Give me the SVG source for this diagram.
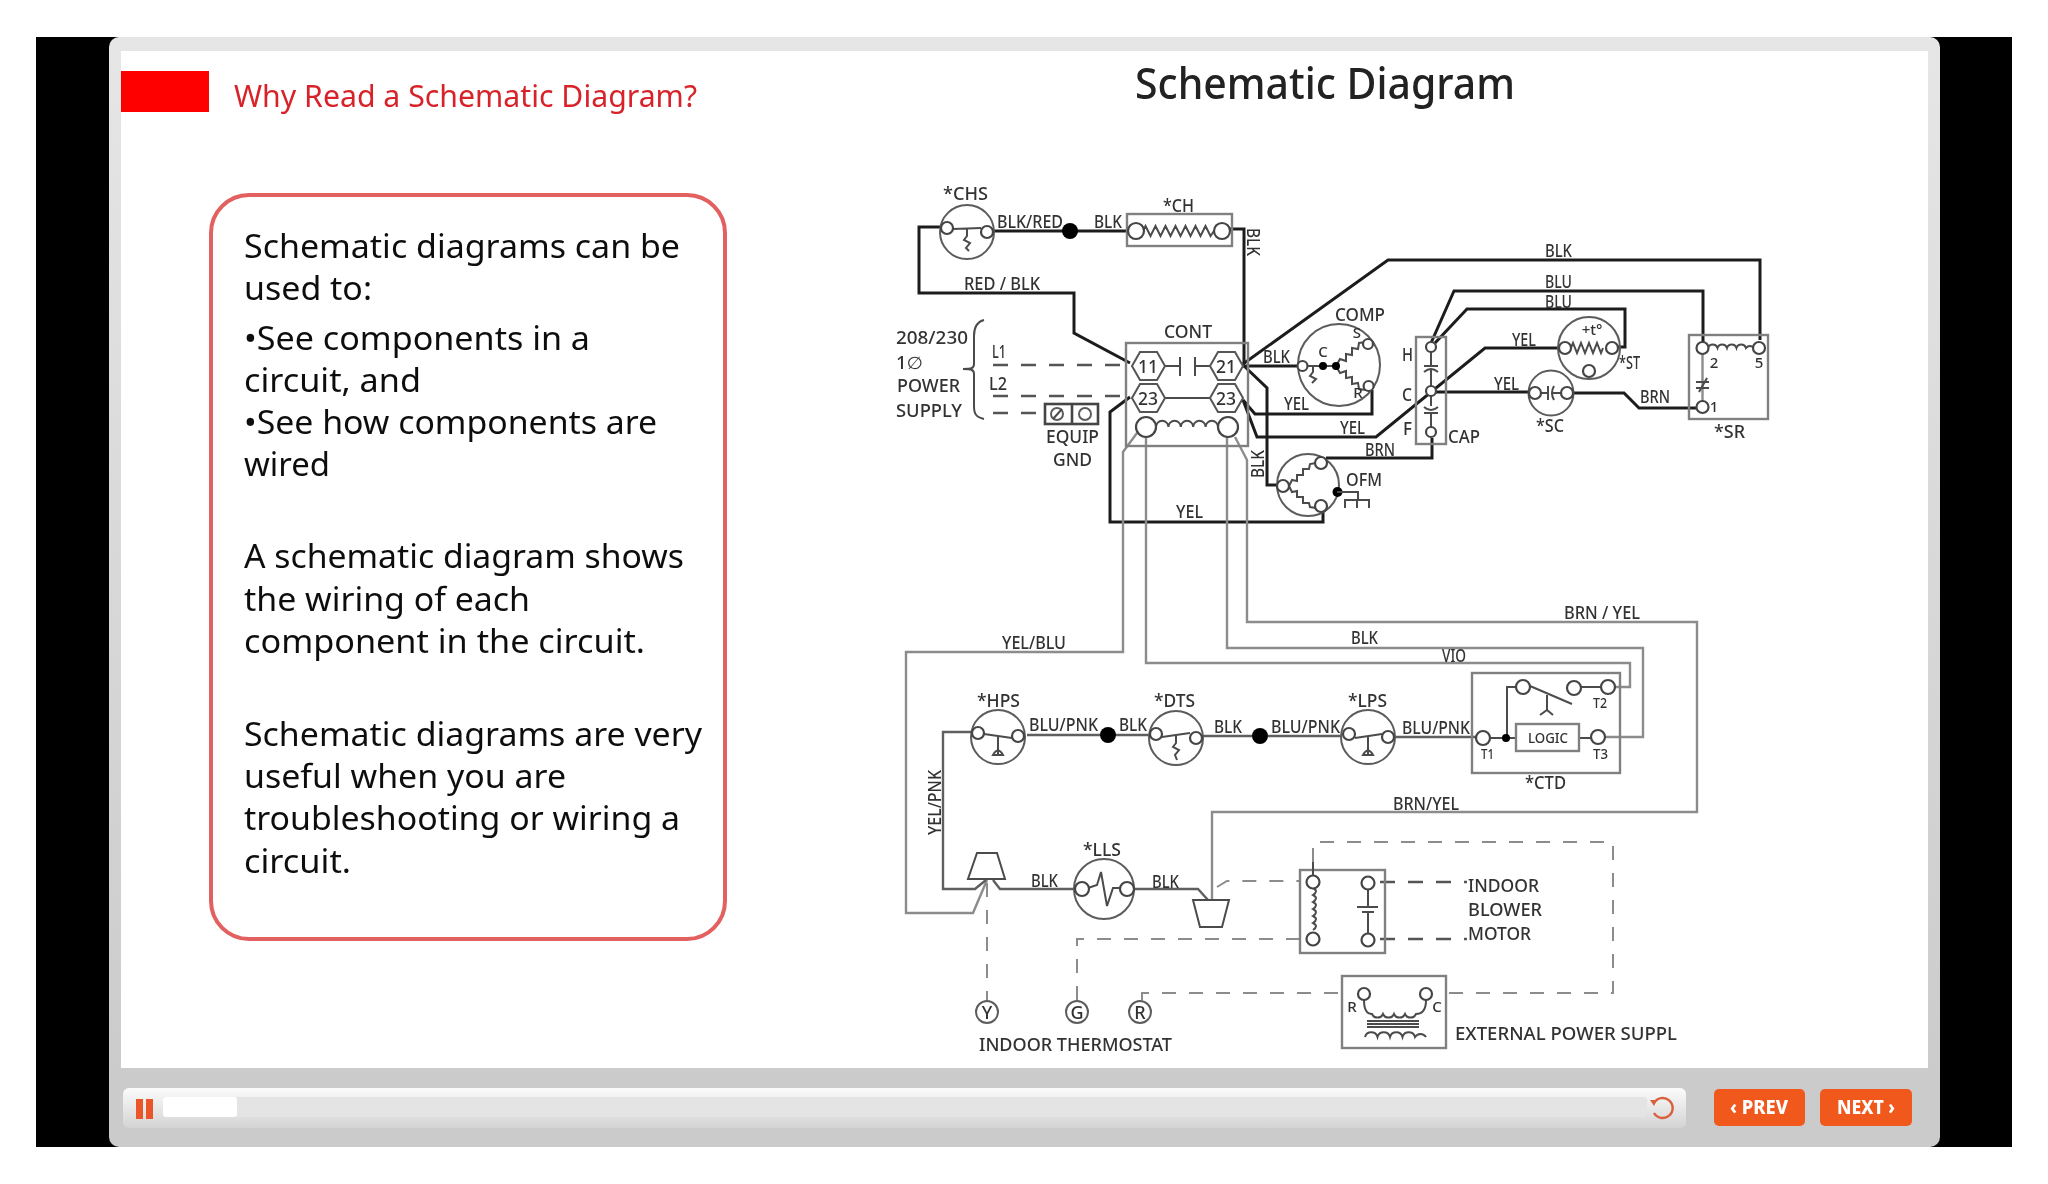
<svg xmlns="http://www.w3.org/2000/svg" width="2048" height="1184" viewBox="0 0 2048 1184">
<defs>
<linearGradient id="frameFill" x1="0" y1="0" x2="0" y2="1"><stop offset="0" stop-color="#e6e6e6"/><stop offset="0.95" stop-color="#cbcbcb"/></linearGradient>
<linearGradient id="barFill" x1="0" y1="0" x2="0" y2="1"><stop offset="0" stop-color="#fbfbfb"/><stop offset="1" stop-color="#d4d4d4"/></linearGradient>
<filter id="soft" filterUnits="userSpaceOnUse" x="0" y="0" width="2048" height="1184"><feGaussianBlur stdDeviation="0.5"/></filter>
</defs>
<style>
text{font-family:"Noto Sans","DejaVu Sans",sans-serif}
.body{font-size:33px;fill:#111}
.lab{font-size:17.500px;fill:#333;font-weight:500}
.big{font-size:18px;fill:#333;font-weight:500}
.sm{font-size:15px;fill:#333;font-weight:500}
.th{font-size:18px;fill:#333;font-weight:500}
.w{fill:none;stroke:#1e1e1e;stroke-width:3;stroke-linejoin:miter}
.g{fill:none;stroke:#5e5e5e;stroke-width:2.400}
.l{fill:none;stroke:#8c8c8c;stroke-width:2.400}
.dk{fill:none;stroke:#555;stroke-width:2.400;stroke-dasharray:15 13}
.dg{fill:none;stroke:#8c8c8c;stroke-width:2;stroke-dasharray:14 13}
.box{fill:none;stroke:#808080;stroke-width:2.400}
.boxd{fill:none;stroke:#444;stroke-width:2.600}
.c{fill:none;stroke:#5c5c5c;stroke-width:2}
.cf{fill:#fff;stroke:#555;stroke-width:2}
.tm{fill:#fff;stroke:#444;stroke-width:2.200}
.sym{fill:none;stroke:#4c4c4c;stroke-width:2}
.dot{fill:#000}
</style>
<g id="page" filter="url(#soft)">
<g id="frame">
<rect x="0" y="0" width="2048" height="1184" fill="#fff"/>
<rect x="36" y="37" width="1976" height="1110" fill="#000"/>
<rect x="109" y="37" width="1831" height="1110" rx="10" fill="url(#frameFill)"/>
<rect x="121" y="51" width="1807" height="1017" fill="#fff"/>
</g>

<g id="header">
<rect x="121" y="71" width="88" height="41" fill="#fe0000"/>
<text x="234" y="107" font-size="30" fill="#d8232a" textLength="463" lengthAdjust="spacingAndGlyphs">Why Read a Schematic Diagram?</text>
<text x="1135" y="99" font-size="44" font-weight="500" fill="#222" textLength="380" lengthAdjust="spacingAndGlyphs">Schematic Diagram</text>
</g>

<g id="text-panel">
<rect x="211" y="195" width="514" height="744" rx="38" fill="#fff" stroke="#e2605f" stroke-width="4"/>
<text class="body" x="244" y="258" textLength="436" lengthAdjust="spacingAndGlyphs">Schematic diagrams can be</text>
<text class="body" x="244" y="300" textLength="128" lengthAdjust="spacingAndGlyphs">used to:</text>
<text class="body" x="244" y="350" textLength="346" lengthAdjust="spacingAndGlyphs">•See components in a</text>
<text class="body" x="244" y="392" textLength="177" lengthAdjust="spacingAndGlyphs">circuit, and</text>
<text class="body" x="244" y="434" textLength="413" lengthAdjust="spacingAndGlyphs">•See how components are</text>
<text class="body" x="244" y="476" textLength="86" lengthAdjust="spacingAndGlyphs">wired</text>
<text class="body" x="244" y="568" textLength="440" lengthAdjust="spacingAndGlyphs">A schematic diagram shows</text>
<text class="body" x="244" y="611" textLength="286" lengthAdjust="spacingAndGlyphs">the wiring of each</text>
<text class="body" x="244" y="653" textLength="401" lengthAdjust="spacingAndGlyphs">component in the circuit.</text>
<text class="body" x="244" y="746" textLength="458" lengthAdjust="spacingAndGlyphs">Schematic diagrams are very</text>
<text class="body" x="244" y="788" textLength="322" lengthAdjust="spacingAndGlyphs">useful when you are</text>
<text class="body" x="244" y="830" textLength="436" lengthAdjust="spacingAndGlyphs">troubleshooting or wiring a</text>
<text class="body" x="244" y="873" textLength="107" lengthAdjust="spacingAndGlyphs">circuit.</text>
</g>

<g id="connectors">
<path class="w" d="M942 227H919V293H1074V333L1130 363"/>
<path class="w" d="M993 231H1127"/>
<path class="w" d="M1230 229H1244V364"/>
<path class="w" d="M1243 364L1388 260H1760V340"/>
<path class="w" d="M1243 366H1297"/>
<path class="w" d="M1243 365L1267 388V485H1277"/>
<path class="w" d="M1243 400L1255 414H1372V390"/>
<path class="w" d="M1243 400L1257 437H1376L1485 348H1558"/>
<path class="w" d="M1130 397L1110 412V522H1323V511"/>
<path class="w" d="M1431 343L1454 291H1703V342"/>
<path class="w" d="M1435 343L1467 309H1625V347H1618"/>
<path class="w" d="M1431 392H1529"/>
<path class="w" d="M1573 393H1624L1639 408H1696"/>
<path class="w" d="M1326 458H1432V438"/>
<path class="l" d="M1137 433L1123 452V652H906V913H973L987 880"/>
<path class="l" d="M1146 437V663H1630V687H1615"/>
<path class="l" d="M1227 437V648H1643V737H1606"/>
<path class="l" d="M1235 437L1247 460V622H1697V812H1212V900"/>
<path class="g" d="M972 732H943V889H975L986 880"/>
<path class="g" d="M1027 735H1150"/>
<path class="g" d="M1203 736H1342"/>
<path class="g" d="M1395 737H1476"/>
<path class="g" d="M993 880L1000 889H1074"/>
<path class="g" d="M1135 889H1198L1208 900"/>
<path class="dk" d="M993 365H1130"/>
<path class="dk" d="M993 396H1130"/>
<path class="dk" d="M993 413H1045"/>
<path class="dg" d="M987 883V1000"/>
<path class="dg" d="M1217 887L1227 881H1300"/>
<path class="dg" d="M1077 1000V939H1300"/>
<path class="dg" d="M1142 1000V993H1342"/>
<path class="dg" d="M1313 862V842H1613V993H1447"/>
<path class="dk" d="M1380 882H1467"/>
<path class="dk" d="M1380 939H1467"/>
</g>

<g id="wire-labels">
<text class="lab" x="997" y="228" textLength="66" lengthAdjust="spacingAndGlyphs">BLK/RED</text>
<text class="lab" x="1094" y="228" textLength="28" lengthAdjust="spacingAndGlyphs">BLK</text>
<text class="lab" x="964" y="290" textLength="76" lengthAdjust="spacingAndGlyphs">RED / BLK</text>
<text class="lab" transform="translate(1247,228) rotate(90)" textLength="28" lengthAdjust="spacingAndGlyphs">BLK</text>
<text class="lab" x="1263" y="363" textLength="27" lengthAdjust="spacingAndGlyphs">BLK</text>
<text class="lab" x="1284" y="410" textLength="25" lengthAdjust="spacingAndGlyphs">YEL</text>
<text class="lab" x="1340" y="434" textLength="25" lengthAdjust="spacingAndGlyphs">YEL</text>
<text class="lab" x="1365" y="456" textLength="30" lengthAdjust="spacingAndGlyphs">BRN</text>
<text class="lab" transform="translate(1264,478) rotate(-90)" textLength="28" lengthAdjust="spacingAndGlyphs">BLK</text>
<text class="lab" x="1176" y="518" textLength="27" lengthAdjust="spacingAndGlyphs">YEL</text>
<text class="lab" x="1545" y="257" textLength="27" lengthAdjust="spacingAndGlyphs">BLK</text>
<text class="lab" x="1545" y="288" textLength="27" lengthAdjust="spacingAndGlyphs">BLU</text>
<text class="lab" x="1545" y="308" textLength="27" lengthAdjust="spacingAndGlyphs">BLU</text>
<text class="lab" x="1512" y="346" textLength="24" lengthAdjust="spacingAndGlyphs">YEL</text>
<text class="lab" x="1494" y="390" textLength="25" lengthAdjust="spacingAndGlyphs">YEL</text>
<text class="lab" x="1640" y="403" textLength="30" lengthAdjust="spacingAndGlyphs">BRN</text>
<text class="lab" x="1002" y="649" textLength="64" lengthAdjust="spacingAndGlyphs">YEL/BLU</text>
<text class="lab" x="1564" y="619" textLength="76" lengthAdjust="spacingAndGlyphs">BRN / YEL</text>
<text class="lab" x="1351" y="644" textLength="27" lengthAdjust="spacingAndGlyphs">BLK</text>
<text class="lab" x="1442" y="662" textLength="24" lengthAdjust="spacingAndGlyphs">VIO</text>
<text class="lab" x="1393" y="810" textLength="66" lengthAdjust="spacingAndGlyphs">BRN/YEL</text>
<text class="lab" transform="translate(941,835) rotate(-90)" textLength="65" lengthAdjust="spacingAndGlyphs">YEL/PNK</text>
<text class="lab" x="1029" y="731" textLength="69" lengthAdjust="spacingAndGlyphs">BLU/PNK</text>
<text class="lab" x="1119" y="731" textLength="28" lengthAdjust="spacingAndGlyphs">BLK</text>
<text class="lab" x="1214" y="733" textLength="28" lengthAdjust="spacingAndGlyphs">BLK</text>
<text class="lab" x="1271" y="733" textLength="69" lengthAdjust="spacingAndGlyphs">BLU/PNK</text>
<text class="lab" x="1402" y="734" textLength="68" lengthAdjust="spacingAndGlyphs">BLU/PNK</text>
<text class="lab" x="1031" y="887" textLength="27" lengthAdjust="spacingAndGlyphs">BLK</text>
<text class="lab" x="1152" y="888" textLength="27" lengthAdjust="spacingAndGlyphs">BLK</text>
</g>

<g id="CHS">
<circle class="c" cx="967" cy="232" r="27"/>
<path class="sym" d="M953 229L981 228M967 229V236L964 240L970 243L966 248L969 251"/>
<circle class="tm" cx="947" cy="228" r="6"/><circle class="tm" cx="987" cy="232" r="6"/>
<text class="big" x="943" y="200" textLength="45" lengthAdjust="spacingAndGlyphs">*CHS</text>
</g>
<circle id="junction-1" class="dot" cx="1070" cy="231" r="8"/>
<g id="CH">
<rect class="box" x="1127" y="214" width="105" height="32"/>
<path class="sym" d="M1143 231l2.500 -5 5 10 5 -10 5 10 5 -10 5 10 5 -10 5 10 5 -10 5 10 5 -10 5 10 5 -10 5 10 3.500 -5"/>
<circle class="tm" cx="1136" cy="231" r="8"/><circle class="tm" cx="1222" cy="231" r="8"/>
<text class="big" x="1163" y="212" textLength="31" lengthAdjust="spacingAndGlyphs">*CH</text>
</g>
<g id="power-supply">
<text class="lab" x="896" y="344" textLength="72" lengthAdjust="spacingAndGlyphs">208/230</text>
<text class="lab" x="896" y="369" textLength="27" lengthAdjust="spacingAndGlyphs">1∅</text>
<text class="lab" x="897" y="392" textLength="63" lengthAdjust="spacingAndGlyphs">POWER</text>
<text class="lab" x="896" y="417" textLength="66" lengthAdjust="spacingAndGlyphs">SUPPLY</text>
<path class="sym" d="M984 320C976 322 974 328 974 336V364C974 368 972 369 963 369C972 369 974 370 974 374V406C974 414 976 417 984 419"/>
<text class="lab" x="992" y="358" textLength="14" lengthAdjust="spacingAndGlyphs">L1</text>
<text class="lab" x="989" y="390" textLength="18" lengthAdjust="spacingAndGlyphs">L2</text>
</g>
<g id="equip-gnd">
<rect class="boxd" x="1045" y="404" width="53" height="20"/>
<path class="boxd" d="M1072 404V424"/>
<circle class="c" cx="1057" cy="414" r="6"/><path class="sym" d="M1053 419L1062 409"/>
<circle class="c" cx="1085" cy="414" r="6"/>
<text class="lab" x="1046" y="443" textLength="53" lengthAdjust="spacingAndGlyphs">EQUIP</text>
<text class="lab" x="1053" y="466" textLength="39" lengthAdjust="spacingAndGlyphs">GND</text>
</g>
<g id="CONT">
<rect class="box" x="1126" y="343" width="122" height="103"/>
<path class="sym" d="M1165 366H1180M1180 357V376M1195 357V376M1195 366H1210M1165 398H1210"/>
<path class="cf" d="M1132 366L1140 352H1157L1165 366L1157 380H1140Z"/>
<path class="cf" d="M1210 366L1218 352H1235L1243 366L1235 380H1218Z"/>
<path class="cf" d="M1132 398L1140 384H1157L1165 398L1157 412H1140Z"/>
<path class="cf" d="M1210 398L1218 384H1235L1243 398L1235 412H1218Z"/>
<text class="lab" x="1148" y="373" text-anchor="middle">11</text>
<text class="lab" x="1226" y="373" text-anchor="middle">21</text>
<text class="lab" x="1148" y="405" text-anchor="middle">23</text>
<text class="lab" x="1226" y="405" text-anchor="middle">23</text>
<path class="sym" d="M1156 427a6.200 6.200 0 0 1 12.400 0a6.200 6.200 0 0 1 12.400 0a6.200 6.200 0 0 1 12.400 0a6.200 6.200 0 0 1 12.400 0a6.200 6.200 0 0 1 12.400 0"/>
<circle class="tm" cx="1146" cy="427" r="10"/><circle class="tm" cx="1228" cy="427" r="10"/>
<text class="lab" x="1164" y="338" textLength="48" lengthAdjust="spacingAndGlyphs">CONT</text>
</g>
<g id="COMP">
<circle class="c" cx="1339" cy="365" r="41"/>
<path class="sym" d="M1336 366l4 -7 6 2 0 -7 6 1 0 -7 6 1 1 -6 7 -1M1336 366l4 7 6 -2 0 7 6 -1 0 7 6 -1 1 6 7 1"/>
<path class="sym" d="M1313 367V372L1310 376L1316 379L1312 383"/>
<path class="sym" d="M1307 366H1336"/>
<circle class="tm" cx="1302.500" cy="366" r="5"/><circle class="dot" cx="1323" cy="366" r="4"/><circle class="dot" cx="1336" cy="366" r="4"/>
<circle class="tm" cx="1368" cy="344" r="5"/><circle class="tm" cx="1368.600" cy="386" r="5"/>
<text class="lab" x="1335" y="321" textLength="50" lengthAdjust="spacingAndGlyphs">COMP</text>
<text class="sm" x="1357" y="338" text-anchor="middle">S</text>
<text class="sm" x="1323" y="357" text-anchor="middle">C</text>
<text class="sm" x="1358" y="398" text-anchor="middle">R</text>
</g>
<g id="CAP">
<rect class="box" x="1416" y="337" width="30" height="107"/>
<path class="sym" d="M1431 352V366M1424 366H1438M1424 372Q1431 366 1438 372M1431 370V386M1431 396V406M1424 407Q1431 413 1438 407M1424 413H1438M1431 413V427"/>
<circle class="tm" cx="1431" cy="347" r="5"/><circle class="tm" cx="1431" cy="391" r="5"/><circle class="tm" cx="1431" cy="432" r="5"/>
<text class="lab" x="1402" y="361" textLength="11" lengthAdjust="spacingAndGlyphs">H</text>
<text class="lab" x="1402" y="401" textLength="10" lengthAdjust="spacingAndGlyphs">C</text>
<text class="lab" x="1403" y="435" textLength="9" lengthAdjust="spacingAndGlyphs">F</text>
<text class="lab" x="1448" y="443" textLength="32" lengthAdjust="spacingAndGlyphs">CAP</text>
</g>
<g id="ST">
<circle class="c" cx="1589" cy="348" r="31"/>
<path class="sym" d="M1571 348l2 -5 4 10 4 -10 4 10 4 -10 4 10 4 -10 4 10 2 -5"/>
<circle class="tm" cx="1565" cy="348" r="6"/><circle class="tm" cx="1612" cy="348" r="6"/><circle class="tm" cx="1589" cy="371" r="6"/>
<text class="sm" x="1592" y="335" text-anchor="middle">+t°</text>
<text class="lab" x="1619" y="369" textLength="21" lengthAdjust="spacingAndGlyphs">*ST</text>
</g>
<g id="SC">
<circle class="c" cx="1551" cy="393" r="22.500"/>
<path class="sym" d="M1541 393H1548M1548 386V400M1554 386Q1550 393 1554 400M1552 393H1561"/>
<circle class="tm" cx="1535" cy="393" r="6"/><circle class="tm" cx="1567" cy="393" r="6"/>
<text class="lab" x="1536" y="432" textLength="28" lengthAdjust="spacingAndGlyphs">*SC</text>
</g>
<g id="SR">
<rect class="box" x="1689" y="335" width="79" height="84"/>
<path class="l" d="M1702.500 354V401"/>
<path class="sym" d="M1696 382H1709M1696 388H1709M1699 392L1707 378"/>
<path class="sym" d="M1708 348a5 5 0 0 1 9.500 0a5 5 0 0 1 9.500 0a5 5 0 0 1 9.500 0a5 5 0 0 1 9.500 0a5 5 0 0 1 8 0"/>
<circle class="tm" cx="1702.500" cy="348" r="6"/><circle class="tm" cx="1759" cy="348" r="6"/><circle class="tm" cx="1702.500" cy="407" r="6"/>
<text class="sm" x="1714" y="368" text-anchor="middle">2</text>
<text class="sm" x="1759" y="368" text-anchor="middle">5</text>
<text class="sm" x="1714" y="412" text-anchor="middle">1</text>
<text class="lab" x="1714" y="438" textLength="31" lengthAdjust="spacingAndGlyphs">*SR</text>
</g>
<g id="OFM">
<circle class="c" cx="1308" cy="485" r="31"/>
<path class="sym" d="M1289 486l3 -6 5 1 0 -6 6 0 0 -6 6 0 1 -5 6 -1M1289 486l3 6 5 -1 0 6 6 0 0 6 6 0 1 4 6 1"/>
<circle class="tm" cx="1283" cy="486" r="6"/><circle class="tm" cx="1321" cy="463" r="6"/><circle class="tm" cx="1321" cy="506" r="6"/>
<circle class="dot" cx="1337.500" cy="492" r="5"/>
<path class="sym" d="M1337 492H1358V500M1345 508V500H1369V508M1357 500V508"/>
<text class="lab" x="1346" y="486" textLength="36" lengthAdjust="spacingAndGlyphs">OFM</text>
</g>
<g id="HPS">
<circle class="c" cx="998" cy="737" r="27"/>
<path class="sym" d="M984 734L1012 738M998 736V755M993 755Q998 746 1003 755Z"/>
<circle class="tm" cx="978" cy="733" r="6"/><circle class="tm" cx="1018" cy="736" r="6"/>
<text class="big" x="977" y="707" textLength="43" lengthAdjust="spacingAndGlyphs">*HPS</text>
</g>
<circle id="junction-2" class="dot" cx="1108" cy="735" r="8"/>
<g id="DTS">
<circle class="c" cx="1176" cy="738" r="27"/>
<path class="sym" d="M1162 737L1190 733M1176 736V743L1173 747L1179 750L1175 755L1177 760"/>
<circle class="tm" cx="1156" cy="734" r="6"/><circle class="tm" cx="1196" cy="738" r="6"/>
<text class="big" x="1154" y="707" textLength="41" lengthAdjust="spacingAndGlyphs">*DTS</text>
</g>
<circle id="junction-3" class="dot" cx="1260" cy="736" r="8"/>
<g id="LPS">
<circle class="c" cx="1368" cy="737" r="27"/>
<path class="sym" d="M1355 738L1382 734M1368 736V755M1363 755Q1368 746 1373 755Z"/>
<circle class="tm" cx="1349" cy="734" r="6"/><circle class="tm" cx="1388" cy="737" r="6"/>
<text class="big" x="1348" y="707" textLength="39" lengthAdjust="spacingAndGlyphs">*LPS</text>
</g>
<g id="CTD">
<rect class="box" x="1472" y="673" width="148" height="100"/>
<path class="sym" d="M1490 738H1516M1507 738V687H1516M1579 738H1591M1581 687H1601M1530 686L1572 704M1547 695V710M1540 715L1547 710L1553 715"/>
<rect class="box" x="1516" y="724" width="63" height="27"/>
<circle class="tm" cx="1483" cy="738" r="7"/><circle class="dot" cx="1506" cy="738" r="4"/>
<circle class="tm" cx="1598" cy="737" r="7"/><circle class="tm" cx="1608" cy="687" r="7"/><circle class="tm" cx="1574" cy="688" r="7"/><circle class="tm" cx="1523" cy="687" r="7"/>
<text class="sm" x="1528" y="743" textLength="40" lengthAdjust="spacingAndGlyphs">LOGIC</text>
<text class="sm" x="1481" y="759" textLength="13" lengthAdjust="spacingAndGlyphs">T1</text>
<text class="sm" x="1593" y="759" textLength="15" lengthAdjust="spacingAndGlyphs">T3</text>
<text class="sm" x="1593" y="708" textLength="14" lengthAdjust="spacingAndGlyphs">T2</text>
<text class="lab" x="1525" y="789" textLength="41" lengthAdjust="spacingAndGlyphs">*CTD</text>
</g>
<g id="pressure-switch-upper"><path class="sym" d="M968 879H1005L997 853H977Z"/></g>
<g id="LLS">
<circle class="c" cx="1104" cy="889" r="30"/>
<path class="sym" d="M1088 888L1097 885L1101 872L1107 906L1113 888H1122"/>
<circle class="tm" cx="1082" cy="889" r="7"/><circle class="tm" cx="1127" cy="889" r="7"/>
<text class="big" x="1083" y="856" textLength="38" lengthAdjust="spacingAndGlyphs">*LLS</text>
</g>
<g id="pressure-switch-lower"><path class="sym" d="M1193 900H1229L1222 927H1200Z"/></g>
<g id="thermostat">
<circle class="c" cx="987" cy="1012" r="11"/><circle class="c" cx="1077" cy="1012" r="11"/><circle class="c" cx="1140" cy="1012" r="11"/>
<text class="th" x="987" y="1019" text-anchor="middle">Y</text>
<text class="th" x="1077" y="1019" text-anchor="middle">G</text>
<text class="th" x="1140" y="1019" text-anchor="middle">R</text>
<text class="lab" x="979" y="1051" textLength="193" lengthAdjust="spacingAndGlyphs">INDOOR THERMOSTAT</text>
</g>
<g id="indoor-relay">
<rect class="box" x="1300" y="870" width="85" height="83"/>
<path class="sym" d="M1313 888q6 3 0 7q6 3 0 7q6 3 0 7q6 3 0 7q6 3 0 7q6 3 0 7M1368 889V907M1357 907H1378M1362 912H1374M1368 912V934M1313 862V876"/>
<circle class="tm" cx="1313" cy="882" r="6.500"/><circle class="tm" cx="1313" cy="939" r="6.500"/><circle class="tm" cx="1368" cy="883" r="6.500"/><circle class="tm" cx="1368" cy="940" r="6.500"/>
<text class="lab" x="1468" y="892" textLength="71" lengthAdjust="spacingAndGlyphs">INDOOR</text>
<text class="lab" x="1468" y="916" textLength="74" lengthAdjust="spacingAndGlyphs">BLOWER</text>
<text class="lab" x="1468" y="940" textLength="63" lengthAdjust="spacingAndGlyphs">MOTOR</text>
</g>
<g id="transformer">
<rect class="box" x="1342" y="976" width="104" height="72"/>
<path class="sym" d="M1364 1000Q1364 1014 1372 1014a6 6 0 0 0 11 0a6 6 0 0 0 11 0a6 6 0 0 0 11 0a6 6 0 0 0 11 0Q1426 1014 1426 1000"/>
<path class="sym" d="M1367 1021H1419M1367 1024H1419M1367 1027H1419M1365 1037a6.500 6.500 0 0 1 12.500 0a6.500 6.500 0 0 1 12.500 0a6.500 6.500 0 0 1 12.500 0a6.500 6.500 0 0 1 12.500 0a6.500 6.500 0 0 1 11 0"/>
<circle class="tm" cx="1364" cy="994" r="6"/><circle class="tm" cx="1426" cy="994" r="6"/>
<text class="sm" x="1352" y="1012" text-anchor="middle">R</text>
<text class="sm" x="1437" y="1012" text-anchor="middle">C</text>
<text class="lab" x="1455" y="1040" textLength="222" lengthAdjust="spacingAndGlyphs">EXTERNAL POWER SUPPL</text>
</g>

<g id="player-bar">
<rect x="123" y="1088" width="1563" height="40" rx="6" fill="url(#barFill)"/>
<rect x="136" y="1099" width="7" height="20" fill="#e8562a"/>
<rect x="146" y="1099" width="7" height="20" fill="#e8562a"/>
<rect x="163" y="1097" width="1484" height="20" rx="3" fill="#e4e4e4"/>
<rect x="163" y="1097" width="74" height="20" rx="3" fill="#fff"/>
<path d="M1654 1103A10 10 0 1 1 1654 1113" fill="none" stroke="#d8603c" stroke-width="2.400"/>
<path d="M1650 1100L1657 1100L1654 1106Z" fill="#d8603c"/>
</g>
<g id="prev-button">
<rect x="1714" y="1089" width="91" height="37" rx="5" fill="#f0591f"/>
<text x="1730" y="1114" font-size="19" font-weight="800" fill="#fff" textLength="58" lengthAdjust="spacingAndGlyphs">‹ PREV</text>
</g>
<g id="next-button">
<rect x="1820" y="1089" width="92" height="37" rx="5" fill="#f0591f"/>
<text x="1837" y="1114" font-size="19" font-weight="800" fill="#fff" textLength="58" lengthAdjust="spacingAndGlyphs">NEXT ›</text>
</g>
</g>
</svg>
